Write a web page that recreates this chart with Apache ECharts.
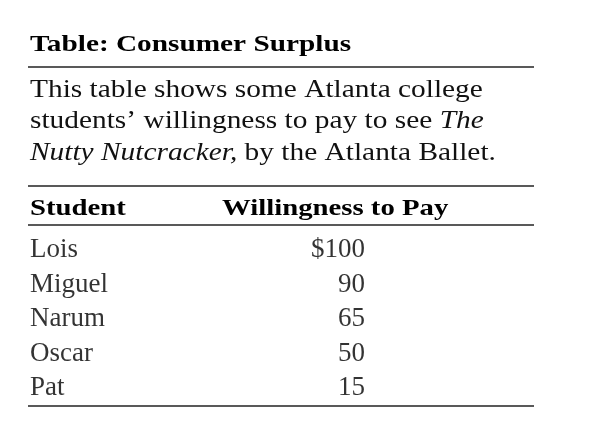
<!DOCTYPE html><html><head><meta charset="utf-8">
<script src="https://cdn.jsdelivr.net/npm/echarts@6/dist/echarts.min.js"></script>
<style>html,body{margin:0;background:#fff}#c{width:594px;height:430px}</style></head><body><div id="c"></div>
<script>
const students=["Lois","Miguel","Narum","Oscar","Pat"];
const willingness=[100,90,65,50,15];
const valueLabels=["$100","90","65","50","15"];
const F='"Liberation Serif","DejaVu Serif",serif';
const chart=echarts.init(document.getElementById('c'));
const rule=(y)=>({type:'line',shape:{x1:28,y1:y,x2:534,y2:y},style:{stroke:'#222',lineWidth:1.5}});
const txt=(x,y,rich)=>({type:'text',x:x,y:y,scaleX:1.13,style:{text:rich.map(r=>'{'+r[0]+'|'+r[1]+'}').join(''),rich:{n:{fontFamily:F,fontSize:26,fill:'#111'},i:{fontFamily:F,fontSize:26,fontStyle:'italic',fill:'#111'}},verticalAlign:'middle'}});
chart.setOption({
 backgroundColor:'#fff',animation:false,
 graphic:[
  {type:'text',x:30,y:45,scaleX:1.22,style:{text:'Table: Consumer Surplus',fontFamily:F,fontSize:24,fontWeight:'bold',fill:'#000',verticalAlign:'middle'}},
  rule(67),
  txt(30,90,[['n','This table shows some Atlanta college']]),
  txt(30,121,[['n','students\u2019 willingness to pay to see '],['i','The']]),
  txt(30,153,[['i','Nutty Nutcracker,'],['n',' by the Atlanta Ballet.']]),
  rule(186),
  {type:'text',x:30,y:209,scaleX:1.25,style:{text:'Student',fontFamily:F,fontSize:23,fontWeight:'bold',fill:'#000',verticalAlign:'middle'}},
  {type:'text',x:222,y:209,scaleX:1.25,style:{text:'Willingness to Pay',fontFamily:F,fontSize:23,fontWeight:'bold',fill:'#000',verticalAlign:'middle'}},
  rule(225),
  rule(406)
 ],
 grid:{left:30,width:335,top:232.75,height:172.5},
 xAxis:{type:'value',min:0,max:100,show:false},
 yAxis:{type:'category',data:students,inverse:true,show:false},
 series:[
  {type:'scatter',symbolSize:0,data:students.map((s,i)=>[0,s]),
   label:{show:true,position:'right',distance:0,formatter:p=>students[p.dataIndex],fontFamily:F,fontSize:27,color:'#000'}},
  {type:'scatter',symbolSize:0,data:willingness.map((v,i)=>[100,students[i],v]),
   label:{show:true,position:'left',distance:0,formatter:p=>valueLabels[p.dataIndex],fontFamily:F,fontSize:27,color:'#000'}}
 ]
});
</script></body></html>
